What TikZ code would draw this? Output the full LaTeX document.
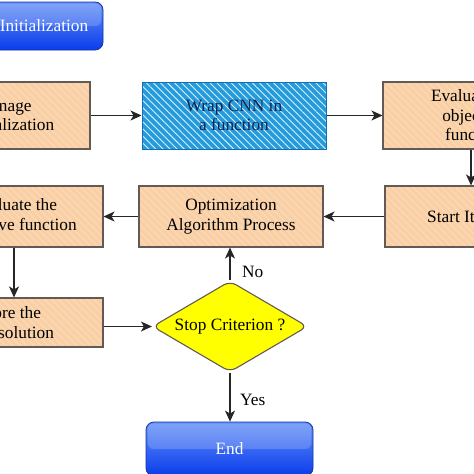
\documentclass[tikz,border=0pt]{standalone}
\usepackage{fontspec}
\setmainfont{Liberation Serif}
\usetikzlibrary{shapes.geometric,arrows.meta,patterns.meta}
\definecolor{peach}{RGB}{249,208,166}
\definecolor{peachline}{RGB}{252,217,182}
\definecolor{boxedge}{RGB}{100,90,85}
\definecolor{hatchblue}{RGB}{35,155,220}
\definecolor{hatchedge}{RGB}{20,110,180}
\definecolor{navy}{RGB}{15,35,80}
\definecolor{btntop}{RGB}{100,145,248}
\definecolor{btnbot}{RGB}{10,60,235}
\definecolor{btnedge}{RGB}{20,50,170}
\definecolor{stopyellow}{RGB}{255,255,0}
\begin{document}
\begin{tikzpicture}[x=1pt,y=-1pt,
  font=\fontsize{17.3}{19.5}\selectfont,
  orangebox/.style={draw=boxedge, line width=1.1pt,
    preaction={fill=peach},
    preaction={pattern={Lines[angle=-45,distance=5pt,line width=1.2pt]}, pattern color=peachline},
    align=center, inner sep=0pt},
  hatchbox/.style={draw=hatchedge, line width=1pt,
    preaction={fill=hatchblue},
    preaction={pattern={Lines[angle=-45,distance=5pt,line width=0.9pt]}, pattern color=white!85!hatchblue},
    align=center, inner sep=0pt, text=navy},
  button/.style={draw=btnedge, line width=0.8pt, rounded corners=8pt,
    top color=btntop, bottom color=btnbot, text=white, inner sep=0pt},
  decision/.style={diamond, draw=boxedge, line width=1.1pt, fill=stopyellow,
    aspect=1.7, inner sep=0pt, rounded corners=7pt},
  arr/.style={-{Stealth[length=11pt,width=10pt,inset=3pt]}, line width=1.1pt, draw=black!85},
  lbl/.style={inner sep=0pt, anchor=west}
]
\useasboundingbox (0,0) rectangle (474,474);
\clip (0,0) rectangle (474,474);

% buttons
\node[button, minimum width=118pt, minimum height=48pt] (init) at (44,26) {Initialization};
\fill[white, opacity=0.18, rounded corners=6pt] ([shift={(2,2)}]init.north west) rectangle ([shift={(-2,0)}]init.east);
\node[button, minimum width=167pt, minimum height=54pt] (endb) at (229.5,449) {End};
\fill[white, opacity=0.18, rounded corners=6pt] ([shift={(2,2)}]endb.north west) rectangle ([shift={(-2,0)}]endb.east);

% row 1
\node[orangebox, minimum width=160pt, minimum height=67pt] (img) at (10,115.5) {Image\\Initialization};
\node[hatchbox, minimum width=184pt, minimum height=67pt] (wrap) at (234,115.5) {Wrap CNN in\\a function};
\node[orangebox, minimum width=182pt, minimum height=67pt] (evalA) at (474,115.5) {Evaluate the\\objective\\function};

% row 2
\node[orangebox, minimum width=178pt, minimum height=61pt] (evalB) at (14,216.5) {Evaluate the\\objective function};
\node[orangebox, minimum width=184pt, minimum height=61pt] (opt) at (231,216.5) {Optimization\\Algorithm Process};
\node[orangebox, minimum width=180pt, minimum height=61pt] (start) at (475,216.5) {Start Iteration};

% row 3
\node[orangebox, minimum width=186pt, minimum height=49pt] (store) at (10,322.5) {Store the\\best solution};
\node[decision, minimum width=155pt, minimum height=91pt] (stop) at (230,326.5) {Stop Criterion ?};

% connectors
\draw[arr] (img.east) -- (wrap.west);
\draw[arr] (wrap.east) -- (evalA.west);
\draw[arr] ([xshift=-3pt]evalA.south) -- ([xshift=-3pt]evalA.south |- start.north);
\draw[arr] (start.west) -- (opt.east);
\draw[arr] (opt.west) -- (evalB.east);
\draw[arr] (evalB.south) -- (evalB.south |- store.north);
\draw[arr] (store.east |- stop.west) -- (stop.west);
\draw[arr] (stop.north) -- (stop.north |- opt.south);
\draw[arr] (stop.south) -- (stop.south |- endb.north);

\node[lbl] (no) at (242,272) {No};
\node[lbl] (yes) at (240,400) {Yes};
\end{tikzpicture}
\end{document}
